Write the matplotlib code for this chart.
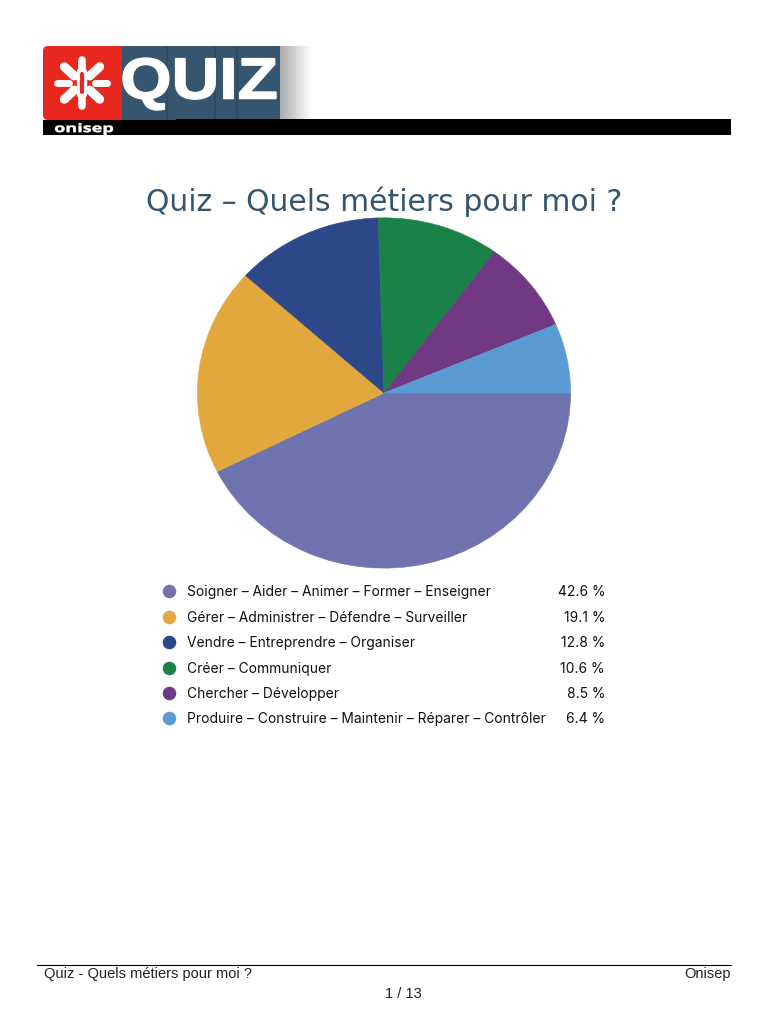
import matplotlib
matplotlib.use('Agg')
import matplotlib.pyplot as plt
import numpy as np
from matplotlib.patches import Rectangle, FancyBboxPatch, PathPatch
from matplotlib.textpath import TextPath
from matplotlib.font_manager import FontProperties
from matplotlib.transforms import Affine2D

W, H = 768, 1024

labels = ['Soigner – Aider – Animer – Former – Enseigner',
          'Gérer – Administrer – Défendre – Surveiller',
          'Vendre – Entreprendre – Organiser',
          'Créer – Communiquer',
          'Chercher – Développer',
          'Produire – Construire – Maintenir – Réparer – Contrôler']
values = [42.6, 19.1, 12.8, 10.6, 8.5, 6.4]
colors = ['#6f74ae', '#e2a83d', '#2c4888', '#1a8148', '#713884', '#5b9bd3']
title = 'Quiz – Quels métiers pour moi ?'
RED = '#e8281e'


def fitted_text(ax, s, box, family, color, zorder=3, edge=0.0):
    # white logo lettering, stretched into a box given in page pixels
    x0, y0, x1, y1 = box
    tp = TextPath((0, 0), s, size=10, prop=FontProperties(family=family, weight='bold'))
    ext = tp.get_extents()
    tr = (Affine2D().translate(-ext.x0, -ext.y0)
          .scale((x1 - x0) / ext.width, -(y1 - y0) / ext.height)
          .translate(x0, y1))
    ax.add_patch(PathPatch(tr.transform_path(tp), fc=color, ec=color, lw=edge, zorder=zorder))


fig = plt.figure(figsize=(W / 100, H / 100), dpi=100, facecolor='white')

# page layer, in pixels of the page
page = fig.add_axes([0, 0, 1, 1])
page.axis('off')

# --- logo ---
page.add_patch(FancyBboxPatch((43, 46), 90, 74, boxstyle='round,pad=0,rounding_size=5',
                              fc=RED, ec='none', zorder=1))
page.add_patch(Rectangle((122, 46), 158, 74, fc='#35566e', ec='none', zorder=1.5))
for x0, x1 in [(166, 168), (214, 216), (236, 238)]:
    page.add_patch(Rectangle((x0, 46), x1 - x0, 74, fc='#2d4c62', ec='none', zorder=1.5))
grad = np.linspace(0, 1, 64).reshape(1, -1)
page.imshow(grad, extent=(280, 312, 120, 46), cmap='gray', vmin=-2.0, vmax=1,
            aspect='auto', zorder=1)
page.set_xlim(0, W)
page.set_ylim(H, 0)

# star of the logo
cx, cy = 82, 83
for ang in [45, 135, 225, 315]:
    a = np.deg2rad(ang)
    page.plot([cx + 11 * np.cos(a), cx + 25 * np.cos(a)],
              [cy - 10 * np.sin(a), cy - 23 * np.sin(a)],
              color='white', lw=6.5, solid_capstyle='round', zorder=2)
for sx in [-1, 1]:
    page.plot([cx + sx * 13, cx + sx * 25], [cy, cy], color='white', lw=5,
              solid_capstyle='round', zorder=2)
for sy in [-1, 1]:
    page.plot([cx, cx], [cy + sy * 16, cy + sy * 23], color='white', lw=5.5,
              solid_capstyle='round', zorder=2)
page.plot([cx, cx], [cy - 11, cy + 11], color='white', lw=7.5, solid_capstyle='round', zorder=2)
page.plot([cx, cx], [cy - 9, cy + 9], color=RED, lw=3, solid_capstyle='round', zorder=3)

fitted_text(page, 'QUIZ', (123, 58, 276, 110), 'Liberation Sans', 'white', edge=1.0)

# black band
page.add_patch(Rectangle((43, 120), 133, 15, fc='black', ec='none', zorder=2))
page.add_patch(Rectangle((176, 119), 555, 16, fc='black', ec='none', zorder=2))
fitted_text(page, 'onisep', (55, 123, 113, 135), 'Open Sans', 'white', edge=0.3)

# --- title ---
page.text(384.5, 202, title, color='#35566e', fontsize=21.5, family='DejaVu Sans',
          ha='center', va='center')

# --- pie ---
pie_ax = fig.add_axes([197 / W, 1 - 568.5 / H, 374 / W, 351 / H])
wedges, _ = pie_ax.pie(values, colors=colors, startangle=0, counterclock=False, radius=1)
for wedge, col in zip(wedges, colors):
    wedge.set_edgecolor(col)
    wedge.set_linewidth(0.4)
pie_ax.set_aspect('auto')
pie_ax.set_xlim(-1.002, 1.002)
pie_ax.set_ylim(-1.002, 1.002)

# --- legend ---
row_y = [592, 618, 643, 669, 694, 719]
dot_y = [591, 617, 642, 668, 693, 718]
for y, dy, lab, val, col in zip(row_y, dot_y, labels, values, colors):
    page.scatter([168.5], [dy], s=95, color=col, linewidths=0)
    page.text(187, y, lab, fontsize=9.95, family='Inter',
              color='#111111', ha='left', va='center')
    page.text(605, y, f'{val} %', fontsize=9.95, family='Inter',
              color='#111111', ha='right', va='center')

# --- footer ---
page.plot([37, 731], [965, 965], color='black', lw=0.8)
page.text(44, 978, 'Quiz - Quels métiers pour moi ?', fontsize=10.5,
          family='Liberation Sans', color='#222222', ha='left', va='baseline')
page.text(731, 978, 'Onisep', fontsize=10.5, family='Liberation Sans',
          color='#222222', ha='right', va='baseline')
page.text(403, 998, '1 / 13', fontsize=10.5, family='Liberation Sans',
          color='#222222', ha='center', va='baseline')

plt.savefig('out.png', dpi=100)
